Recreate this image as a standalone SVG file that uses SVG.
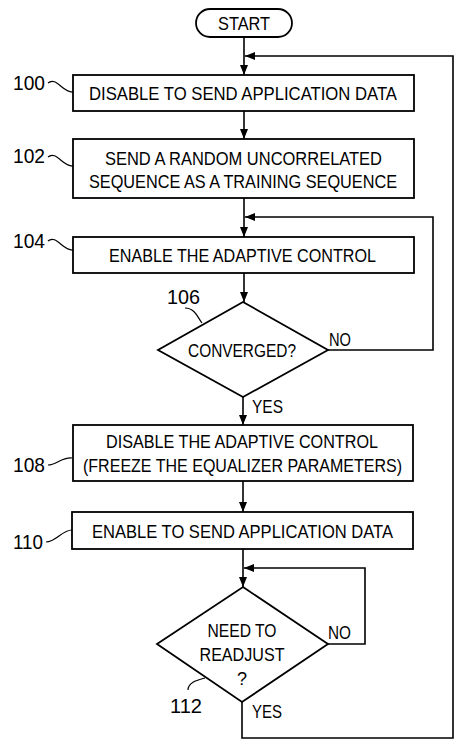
<svg xmlns="http://www.w3.org/2000/svg" width="474" height="749" viewBox="0 0 474 749">
<style>
.shape{fill:#fff;stroke:#000;stroke-width:1.8}
.ln{fill:none;stroke:#000;stroke-width:1.6}
.sq{fill:none;stroke:#000;stroke-width:1.2}
text{font-family:"Liberation Sans",Arial,sans-serif;font-size:18px;fill:#000}
.c{text-anchor:middle}
.ref{font-size:20px}
</style>
<defs>
<marker id="ah" markerWidth="10" markerHeight="8" refX="10" refY="4" orient="auto" markerUnits="userSpaceOnUse">
<path d="M0,0 L10,4 L0,8 Z" fill="#000"/>
</marker>
</defs>
<rect width="474" height="749" fill="#fff"/>
<g id="connectors">
<line class="ln" x1="244" y1="37" x2="244" y2="75" marker-end="url(#ah)"/>
<line class="ln" x1="244" y1="111" x2="244" y2="139" marker-end="url(#ah)"/>
<line class="ln" x1="244" y1="198" x2="244" y2="237" marker-end="url(#ah)"/>
<line class="ln" x1="244" y1="273" x2="244" y2="302" marker-end="url(#ah)"/>
<line class="ln" x1="243" y1="397" x2="243" y2="425" marker-end="url(#ah)"/>
<line class="ln" x1="243" y1="481" x2="243" y2="512" marker-end="url(#ah)"/>
<line class="ln" x1="243" y1="549" x2="243" y2="587" marker-end="url(#ah)"/>
<polyline class="ln" points="328,350 433,350 433,217 245,217" marker-end="url(#ah)"/>
<polyline class="ln" points="328,644 365,644 365,568 244,568" marker-end="url(#ah)"/>
<polyline class="ln" points="242,702 242,738 453,738 453,56 245,56" marker-end="url(#ah)"/>
</g>
<g id="start">
<rect class="shape" x="196" y="9" width="96" height="28" rx="14"/>
<text class="c" x="244" y="30" textLength="52" lengthAdjust="spacingAndGlyphs">START</text>
</g>
<g id="n100">
<rect class="shape" x="73" y="75" width="341" height="36"/>
<text x="89" y="100" textLength="308" lengthAdjust="spacingAndGlyphs">DISABLE TO SEND APPLICATION DATA</text>
<text class="ref" x="13" y="90" textLength="32" lengthAdjust="spacingAndGlyphs">100</text>
<path class="sq" d="M48,83 C56,76 63,93 73,92"/>
</g>
<g id="n102">
<rect class="shape" x="73" y="139" width="341" height="59"/>
<text x="105" y="165" textLength="277" lengthAdjust="spacingAndGlyphs">SEND A RANDOM UNCORRELATED</text>
<text x="89" y="188" textLength="308" lengthAdjust="spacingAndGlyphs">SEQUENCE AS A TRAINING SEQUENCE</text>
<text class="ref" x="13" y="163" textLength="32" lengthAdjust="spacingAndGlyphs">102</text>
<path class="sq" d="M48,157 C56,150 63,167 73,166"/>
</g>
<g id="n104">
<rect class="shape" x="73" y="237" width="341" height="36"/>
<text x="109" y="262" textLength="267" lengthAdjust="spacingAndGlyphs">ENABLE THE ADAPTIVE CONTROL</text>
<text class="ref" x="13" y="248" textLength="32" lengthAdjust="spacingAndGlyphs">104</text>
<path class="sq" d="M48,241 C56,234 63,251 73,250"/>
</g>
<g id="n106">
<polygon class="shape" points="243,302 328,350 243,397 158,350"/>
<text x="188" y="357" textLength="108" lengthAdjust="spacingAndGlyphs">CONVERGED?</text>
<text class="ref" x="167" y="304" textLength="33" lengthAdjust="spacingAndGlyphs">106</text>
<path class="sq" d="M185,308 C195,308 198,318 202,323"/>
<text x="329" y="346" textLength="22" lengthAdjust="spacingAndGlyphs">NO</text>
<text x="252" y="413" textLength="31" lengthAdjust="spacingAndGlyphs">YES</text>
</g>
<g id="n108">
<rect class="shape" x="73" y="425" width="340" height="56"/>
<text x="106" y="448" textLength="272" lengthAdjust="spacingAndGlyphs">DISABLE THE ADAPTIVE CONTROL</text>
<text x="83" y="472" textLength="319" lengthAdjust="spacingAndGlyphs">(FREEZE THE EQUALIZER PARAMETERS)</text>
<text class="ref" x="13" y="472" textLength="32" lengthAdjust="spacingAndGlyphs">108</text>
<path class="sq" d="M48,465 C56,465 62,457 72,458"/>
</g>
<g id="n110">
<rect class="shape" x="72" y="512" width="341" height="37"/>
<text x="92" y="538" textLength="301" lengthAdjust="spacingAndGlyphs">ENABLE TO SEND APPLICATION DATA</text>
<text class="ref" x="13" y="549" textLength="30" lengthAdjust="spacingAndGlyphs">110</text>
<path class="sq" d="M46,542 C56,542 62,530 72,530"/>
</g>
<g id="n112">
<polygon class="shape" points="243,587 328,644 242,702 157,644"/>
<text class="c" x="242" y="637" textLength="69" lengthAdjust="spacingAndGlyphs">NEED TO</text>
<text class="c" x="242" y="661" textLength="85" lengthAdjust="spacingAndGlyphs">READJUST</text>
<text class="c" x="242" y="685">?</text>
<text class="ref" x="170" y="713" textLength="32" lengthAdjust="spacingAndGlyphs">112</text>
<path class="sq" d="M188,690 C188,682 198,680 205,678"/>
<text x="328" y="639" textLength="23" lengthAdjust="spacingAndGlyphs">NO</text>
<text x="252" y="718" textLength="30" lengthAdjust="spacingAndGlyphs">YES</text>
</g>
</svg>
